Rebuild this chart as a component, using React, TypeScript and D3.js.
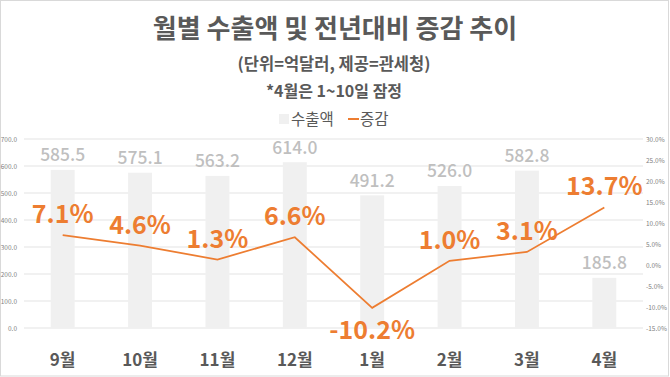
import React from "react";
import * as d3 from "d3";

const categories = ["9월", "10월", "11월", "12월", "1월", "2월", "3월", "4월"];
const exportsValues = [585.5, 575.1, 563.2, 614.0, 491.2, 526.0, 582.8, 185.8];
const growthValues = [7.1, 4.6, 1.3, 6.6, -10.2, 1.0, 3.1, 13.7];
const leftTicks = [0, 100, 200, 300, 400, 500, 600, 700];
const rightTicks = [-15, -10, -5, 0, 5, 10, 15, 20, 25, 30];

const W = 670;
const H = 377;
const FONT = "'Noto Sans CJK KR', 'Noto Sans', sans-serif";
const GRAY = "#595959";
const ORANGE = "#ed7d31";

const fmt1 = (v: number) => d3.format(".1f")(v).replace("\u2212", "-");

export default function App() {
  const x = d3
    .scaleBand<string>()
    .domain(categories)
    .range([24, 643])
    .paddingInner(0.69)
    .paddingOuter(0.345);
  const yL = d3.scaleLinear().domain([0, 700]).range([328, 139]);
  const yR = d3.scaleLinear().domain([-15, 30]).range([328, 139]);
  const cx = (c: string) => (x(c) as number) + x.bandwidth() / 2;

  const line = d3
    .line<number>()
    .x((_, i) => cx(categories[i]))
    .y((d) => yR(d));

  return (
    <div style={{ position: "fixed", left: 0, top: 0 }}>
      <svg width={W} height={H} style={{ display: "block", background: "#fff" }}>
        <rect x={0.5} y={0.5} width={W - 2} height={H - 1.5} fill="#fff" stroke="#d9d9d9" />
        {/* Titles */}
        <text x={335} y={38} textAnchor="middle" fontFamily={FONT} fontWeight={700} fontSize={26} fill={GRAY}>
          월별 수출액 및 전년대비 증감 추이
        </text>
        <text x={334} y={69.5} textAnchor="middle" fontFamily={FONT} fontWeight={700} fontSize={16.5} fill={GRAY}>
          (단위=억달러, 제공=관세청)
        </text>
        <text x={334} y={97} textAnchor="middle" fontFamily={FONT} fontWeight={700} fontSize={16} fill={GRAY}>
          *4월은 1~10일 잠정
        </text>
        {/* Legend */}
        <rect x={279} y={114} width={10} height={10} fill="#f0f0f0" />
        <text x={291} y={124.5} fontFamily={FONT} fontSize={15.5} fill={GRAY}>수출액</text>
        <line x1={348} x2={359} y1={119} y2={119} stroke={ORANGE} strokeWidth={2} />
        <text x={360} y={124.5} fontFamily={FONT} fontSize={15.5} fill={GRAY}>증감</text>

        {/* Gridlines */}
        {leftTicks.map((t) => (
          <line key={"g" + t} x1={24} x2={643} y1={yL(t)} y2={yL(t)} stroke="#e3e3e3" strokeWidth={1} />
        ))}
        {leftTicks.map((t) => (
          <text key={"l" + t} x={17} y={yL(t) + 2.5} textAnchor="end" fontFamily={FONT} fontSize={6.5} fill="#7f7f7f">
            {fmt1(t)}
          </text>
        ))}
        {rightTicks.map((t) => (
          <text key={"r" + t} x={646} y={yR(t) + 2.5} fontFamily={FONT} fontSize={6.5} fill="#7f7f7f">
            {fmt1(t) + "%"}
          </text>
        ))}

        {/* Bars */}
        {exportsValues.map((v, i) => (
          <rect
            key={"b" + i}
            x={x(categories[i])}
            y={yL(v)}
            width={x.bandwidth()}
            height={yL(0) - yL(v)}
            fill="#f0f0f0"
          />
        ))}
        {exportsValues.map((v, i) => (
          <text
            key={"bl" + i}
            x={cx(categories[i])}
            y={yL(v) - 8.5}
            textAnchor="middle"
            fontFamily={FONT}
            fontWeight={500}
            fontSize={17.5}
            fill="#bfbfbf"
          >
            {fmt1(v)}
          </text>
        ))}

        {/* Line */}
        <path d={line(growthValues) || ""} fill="none" stroke={ORANGE} strokeWidth={1.75} />
        {growthValues.map((v, i) => (
          <text
            key={"pl" + i}
            x={cx(categories[i])}
            y={v < 0 ? yR(v) + 31.5 : yR(v) - 12}
            textAnchor="middle"
            fontFamily={FONT}
            fontWeight={700}
            fontSize={25}
            fill={ORANGE}
          >
            {fmt1(v) + "%"}
          </text>
        ))}

        {/* Category labels */}
        {categories.map((c) => (
          <text
            key={"c" + c}
            x={cx(c)}
            y={365.5}
            textAnchor="middle"
            fontFamily={FONT}
            fontWeight={700}
            fontSize={17}
            fill={GRAY}
          >
            {c}
          </text>
        ))}
      </svg>
    </div>
  );
}
